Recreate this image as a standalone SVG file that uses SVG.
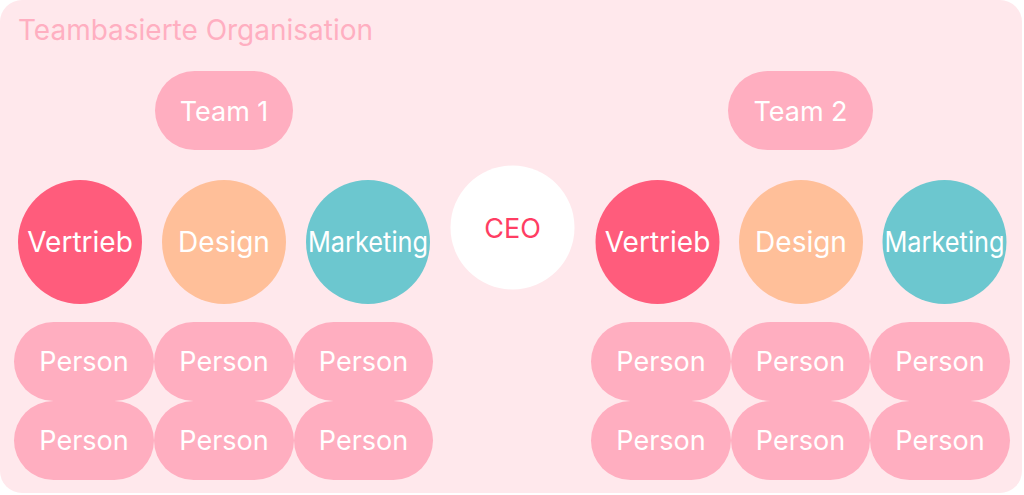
<svg xmlns="http://www.w3.org/2000/svg" width="1024" height="495" viewBox="0 0 1024 495">
<style>
.t{font-family:Inter,"DejaVu Sans",sans-serif;fill:#fff;font-size:27px;text-anchor:middle;dominant-baseline:central}
.c{font-size:28px}
.pill{fill:#FFAEC0}
.v{fill:#FF5C7C}.d{fill:#FFBF99}.m{fill:#6CC7CF}
</style>
<rect x="0" y="0" width="1022" height="493" rx="22" fill="#FFE8EC"/>
<text x="18" y="40" font-family="Inter,'DejaVu Sans',sans-serif" font-size="28" textLength="355" lengthAdjust="spacingAndGlyphs" fill="#FFAFC1">Teambasierte Organisation</text>
<g id="team1"><rect class="pill" x="155" y="71" width="138" height="79" rx="39.5"/><text class="t" x="224" y="111">Team 1</text></g>
<g id="team2"><rect class="pill" x="728" y="71" width="145" height="79" rx="39.5"/><text class="t" x="800.5" y="111">Team 2</text></g>
<g id="ceo"><circle cx="512.5" cy="227.5" r="62" fill="#fff"/><text class="t" x="512.5" y="228" style="fill:#FF3D63">CEO</text></g>
<g id="vertrieb1"><circle class="v" cx="80" cy="242" r="62"/><text class="t c" x="80" y="242">Vertrieb</text></g>
<g id="design1"><circle class="d" cx="224" cy="242" r="62"/><text class="t c" x="224" y="242">Design</text></g>
<g id="marketing1"><circle class="m" cx="368" cy="242" r="62"/><text class="t c" x="368" y="242" textLength="120" lengthAdjust="spacingAndGlyphs">Marketing</text></g>
<g id="vertrieb2"><circle class="v" cx="657.5" cy="242" r="62"/><text class="t c" x="657.5" y="242">Vertrieb</text></g>
<g id="design2"><circle class="d" cx="801" cy="242" r="62"/><text class="t c" x="801" y="242">Design</text></g>
<g id="marketing2"><circle class="m" cx="944.5" cy="242" r="62"/><text class="t c" x="944.5" y="242" textLength="120" lengthAdjust="spacingAndGlyphs">Marketing</text></g>
<g id="p1"><rect class="pill" x="14" y="322" width="140" height="79" rx="39.5"/><text class="t" x="84" y="361">Person</text></g>
<g id="p2"><rect class="pill" x="154" y="322" width="140" height="79" rx="39.5"/><text class="t" x="224" y="361">Person</text></g>
<g id="p3"><rect class="pill" x="294" y="322" width="139" height="79" rx="39.5"/><text class="t" x="363.5" y="361">Person</text></g>
<g id="p4"><rect class="pill" x="14" y="401" width="140" height="79" rx="39.5"/><text class="t" x="84" y="440">Person</text></g>
<g id="p5"><rect class="pill" x="154" y="401" width="140" height="79" rx="39.5"/><text class="t" x="224" y="440">Person</text></g>
<g id="p6"><rect class="pill" x="294" y="401" width="139" height="79" rx="39.5"/><text class="t" x="363.5" y="440">Person</text></g>
<g id="p7"><rect class="pill" x="591" y="322" width="140" height="79" rx="39.5"/><text class="t" x="661" y="361">Person</text></g>
<g id="p8"><rect class="pill" x="731" y="322" width="139" height="79" rx="39.5"/><text class="t" x="800.5" y="361">Person</text></g>
<g id="p9"><rect class="pill" x="870" y="322" width="140" height="79" rx="39.5"/><text class="t" x="940" y="361">Person</text></g>
<g id="p10"><rect class="pill" x="591" y="401" width="140" height="79" rx="39.5"/><text class="t" x="661" y="440">Person</text></g>
<g id="p11"><rect class="pill" x="731" y="401" width="139" height="79" rx="39.5"/><text class="t" x="800.5" y="440">Person</text></g>
<g id="p12"><rect class="pill" x="870" y="401" width="140" height="79" rx="39.5"/><text class="t" x="940" y="440">Person</text></g>
</svg>
